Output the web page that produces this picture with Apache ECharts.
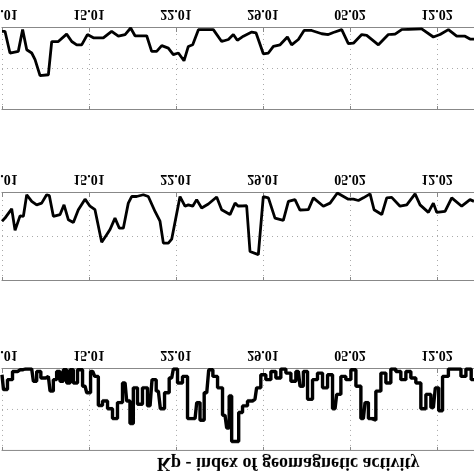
<!DOCTYPE html>
<html><head><meta charset="utf-8">
<script src="https://cdn.jsdelivr.net/npm/echarts@6/dist/echarts.min.js"></script>
<style>html,body{margin:0;padding:0;background:#fff}#c{width:474px;height:474px;transform:scaleY(-1)}</style>
</head><body><div id="c"></div>
<script>
const tickDays = [0, 7, 14, 21, 28, 35];
const tickLabels = ['08.01', '15.01', '22.01', '29.01', '05.02', '12.02'];
const title = 'Kp - index of geomagnetic activity';

const days1 = [0,0.24,0.64,1.31,1.66,1.99,2.39,2.66,3.06,3.73,4.0,4.53,5.2,5.61,6.01,6.41,6.87,7.35,8.15,8.82,9.36,9.9,10.35,10.7,11.64,12.04,12.44,12.85,13.38,13.78,14.19,14.64,14.99,15.34,15.8,17.0,17.67,18.21,18.61,18.93,19.42,20.09,20.44,21.02,21.43,21.83,22.37,22.96,23.3,23.84,24.3,24.91,25.72,26.25,26.66,27.33,27.86,28.27,28.94,29.34,30.28,31.08,31.62,32.15,33.76,34.7,35.24,35.91,36.58,37.25,37.65,37.97];
const vals1 = [.08,.08,.61,.57,.04,.53,.61,.77,1.16,1.14,.33,.33,.15,.33,.41,.41,.16,.24,.24,.08,.2,.16,0,.19,.19,.57,.57,.43,.49,.65,.61,.8,.45,.41,.04,.04,.33,.28,.16,.3,.2,.1,.12,.63,.61,.45,.41,.22,.41,.28,.06,.06,.14,.16,.11,.04,.38,.37,.16,.18,.41,.16,.15,.04,.02,.22,.16,.04,.2,.2,.27,.27];

const days2 = [0,0.24,0.78,1.05,1.45,1.72,1.99,2.39,2.79,3.19,3.59,3.81,4.13,4.67,4.99,5.34,5.74,6.14,6.68,7.08,7.48,8.02,8.42,8.69,9.09,9.44,9.76,10.16,10.43,10.83,11.37,11.77,12.31,12.71,12.98,13.38,13.65,14.32,14.72,14.99,15.34,15.66,16.06,16.6,17.27,17.67,18.34,18.75,19.01,19.68,19.95,20.62,21.02,21.43,21.96,22.63,23.04,23.57,23.97,24.64,25.05,25.85,26.39,26.98,27.86,28.27,28.67,29.07,29.61,29.93,30.55,30.95,31.35,32.02,32.56,33.23,33.63,34.3,34.7,34.97,35.64,36.18,36.98,37.65,37.97];
const vals2 = [.64,.57,.36,.85,.52,.53,.04,.19,.27,.23,.04,.06,.53,.49,.27,.61,.67,.38,.14,.3,.38,1.12,.95,.83,.57,.8,.8,.23,.08,.08,.04,.08,.42,.64,1.14,1.14,1.05,.08,.3,.27,.3,.15,.34,.25,.09,.38,.49,.23,.3,.29,1.33,1.4,.08,.11,.57,.62,.19,.15,.39,.38,.11,.3,.23,0,.14,.14,.17,.11,.02,.38,.49,.11,.1,.3,.27,.02,.27,.44,.23,.44,.42,.11,.3,.15,.19];

const days3 = [0,0.24,0.64,1.05,1.45,1.85,2.39,2.66,2.92,3.33,3.73,4.0,4.26,4.53,4.8,5.07,5.34,5.61,5.87,6.28,6.68,6.95,7.3,7.62,7.88,8.29,8.69,9.09,9.49,9.9,10.16,10.43,10.7,11.1,11.5,11.91,12.23,12.58,12.9,13.25,13.65,13.92,14.32,14.72,15.13,15.53,15.8,16.06,16.47,16.79,17.14,17.54,17.94,18.21,18.34,18.61,18.93,19.15,19.55,19.95,20.35,20.62,21.02,21.43,21.83,22.23,22.63,23.04,23.44,23.84,24.11,24.38,24.78,25.18,25.58,25.99,26.39,26.79,27.06,27.46,27.86,28.27,28.67,29.07,29.34,29.61,29.87,30.28,30.68,31.08,31.48,31.88,32.29,32.69,33.09,33.49,33.9,34.3,34.7,35.02,35.24,35.64,36.18,36.72,37.12,37.52,37.97];
const vals3 = [.14,.5,.26,.06,.02,0,0,.3,.06,.22,.18,.54,.26,.06,.3,.02,.34,.02,.34,.02,.42,.58,.06,.18,.89,.78,.97,1.21,.82,.34,.78,1.33,.46,.86,.46,.9,.26,.54,.97,.58,.22,0,.34,.18,1.21,1.21,.82,1.25,.58,.02,.18,.46,1.13,1.44,.66,1.77,1.77,1.06,.9,.78,.74,.46,.14,.26,.06,.22,0,.1,.3,.06,.42,.06,.74,.26,.1,.46,.14,.97,.62,.18,.26,.02,.42,1.21,.82,1.21,1.25,.54,.1,.34,0,.06,.26,.06,.22,.34,.97,.62,.94,.46,1.02,.18,0,0,.18,0,.26];

const zip = (a, b) => a.map((d, i) => [d, b[i]]);
const grids = [{top: 23, height: 82}, {top: 193, height: 88}, {top: 364, height: 82}];
const font = 'Liberation Serif';
const xA = [], yA = [];
grids.forEach((g, i) => {
  xA.push({type: 'value', gridIndex: i, position: 'bottom', min: 0, max: 37.97, interval: 7,
    axisLine: {show: true, onZero: false, lineStyle: {color: '#888', width: 1.2}},
    axisTick: {show: true, inside: true, length: 4, lineStyle: {color: '#888'}},
    axisLabel: {show: true, showMaxLabel: false, showMinLabel: true, hideOverlap: false, margin: 7, color: '#000', fontFamily: font, fontWeight: 'bold', fontSize: 14,
      formatter: v => { const k = tickDays.indexOf(Math.round(v)); return k >= 0 ? tickLabels[k] : ''; }},
    splitLine: {show: true, lineStyle: {color: '#aaa', type: [1, 4]}}});
  xA.push({type: 'value', gridIndex: i, position: 'top', min: 0, max: 37.97, interval: 7,
    axisLine: {show: true, onZero: false, lineStyle: {color: '#888', width: 1.2}},
    axisTick: {show: true, inside: true, length: 4, lineStyle: {color: '#888'}},
    axisLabel: {show: false}, splitLine: {show: false}});
  yA.push({type: 'value', gridIndex: i, min: 0, max: 2, interval: 1,
    axisLine: {show: false}, axisTick: {show: false}, axisLabel: {show: false},
    splitLine: {show: true, lineStyle: {color: '#aaa', type: [1, 4]}}});
});
const chart = echarts.init(document.getElementById('c'));
chart.setOption({
  animation: false,
  grid: grids.map(g => ({left: 2, right: 0, top: g.top, height: g.height, containLabel: false, outerBoundsMode: 'none'})),
  xAxis: xA, yAxis: yA,
  graphic: [{type: 'text', left: 157, top: 2, style: {text: title, fontFamily: font, fontWeight: 'bold', fontSize: 18, fill: '#000'}}],
  series: [
    {type: 'line', xAxisIndex: 0, yAxisIndex: 0, data: zip(days3, vals3), step: 'middle', showSymbol: false, lineStyle: {color: '#000', width: 3.4}},
    {type: 'line', xAxisIndex: 2, yAxisIndex: 1, data: zip(days2, vals2), showSymbol: false, lineStyle: {color: '#000', width: 2.8}},
    {type: 'line', xAxisIndex: 4, yAxisIndex: 2, data: zip(days1, vals1), showSymbol: false, lineStyle: {color: '#000', width: 2.8}}
  ]
});
</script></body></html>
